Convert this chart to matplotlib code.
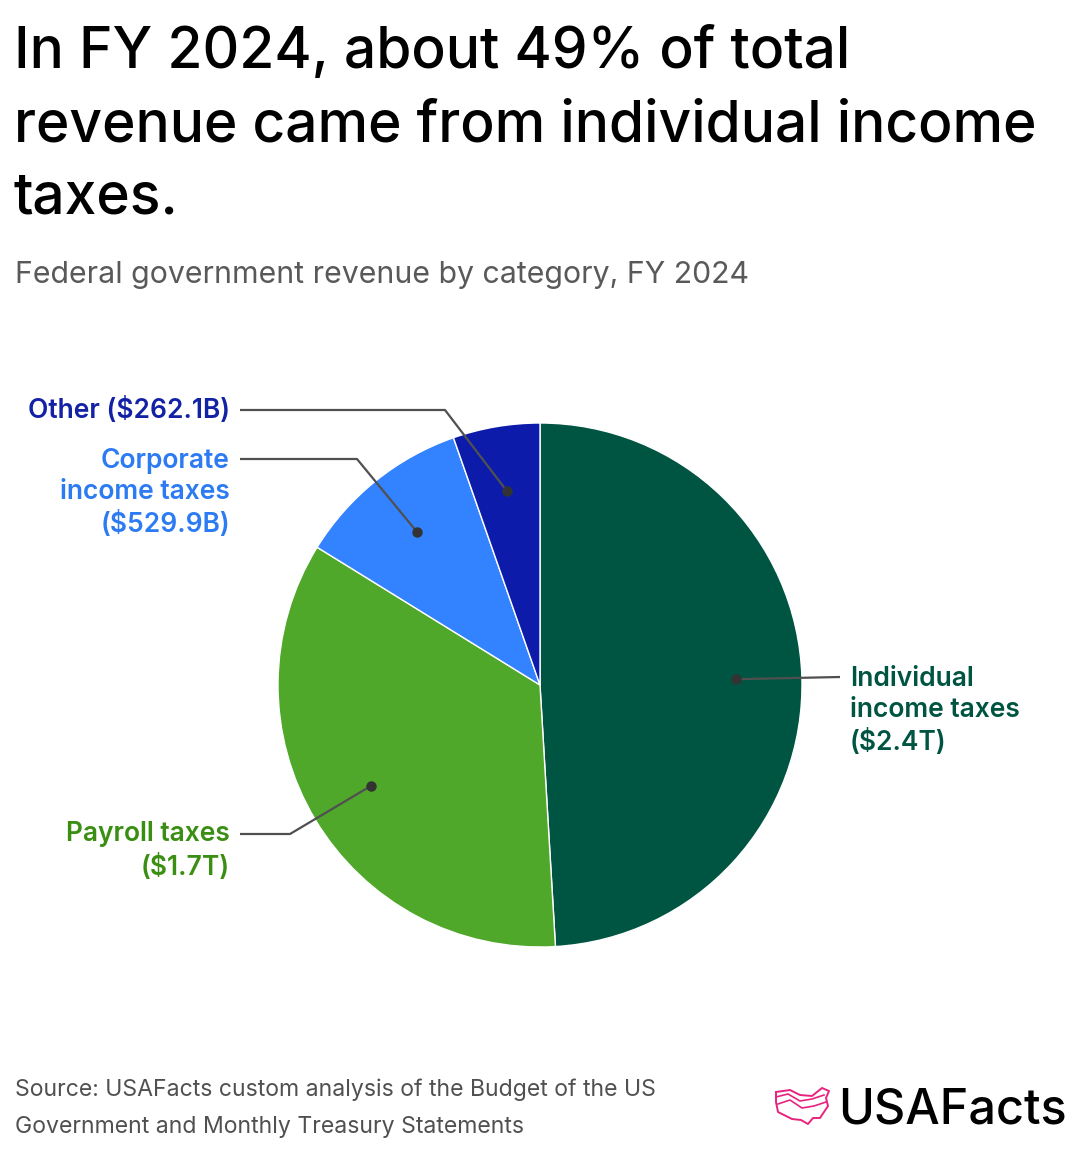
import numpy as np
import matplotlib
matplotlib.use("Agg")
import matplotlib.pyplot as plt

# ---- data ----
categories = ["Individual\nincome taxes", "Payroll taxes", "Corporate\nincome taxes", "Other"]
values_billion = [2400.0, 1700.0, 529.9, 262.1]
value_labels = ["($2.4T)", "($1.7T)", "($529.9B)", "($262.1B)"]
slice_colors = ["#005442", "#4FA82A", "#3382FF", "#0D1BAA"]
label_colors = ["#005442", "#3A8F12", "#2C7BF2", "#1322A5"]
title_lines = ["In FY 2024, about 49% of total", "revenue came from individual income", "taxes."]

W, H = 1080, 1160
fig = plt.figure(figsize=(W / 100, H / 100), dpi=100)
fig.patch.set_facecolor("white")

FONT = ["Inter", "DejaVu Sans"]

# pie axes (created first so the overlay draws above it)
cx, cy, R = 540, 685, 262
pax = fig.add_axes([(cx - R) / W, 1 - (cy + R) / H, 2 * R / W, 2 * R / H])
wedges, _ = pax.pie(values_billion, colors=slice_colors, startangle=90, counterclock=False,
                    radius=1.0, wedgeprops=dict(linewidth=1.0, edgecolor="white"))
pax.set_xlim(-1, 1)
pax.set_ylim(-1, 1)
pax.set_aspect("equal")
pax.axis("off")

# overlay axes in pixel coordinates
ov = fig.add_axes([0, 0, 1, 1])
ov.set_xlim(0, W)
ov.set_ylim(H, 0)
ov.axis("off")
ov.patch.set_alpha(0)

# title / subtitle
for k, line in enumerate(title_lines):
    ov.text(14, 53 + 73 * k, line, fontsize=41, fontfamily=FONT, fontweight="medium",
            color="#000000", va="center", ha="left")
ov.text(15, 275, "Federal government revenue by category, FY 2024", fontsize=21.8,
        fontfamily=FONT, color="#595959", va="center", ha="left")

# leader lines and labels
def to_px(theta_deg, frac):
    t = np.deg2rad(theta_deg)
    return cx + frac * R * np.cos(t), cy - frac * R * np.sin(t)

label_specs = {
    0: dict(elbow=None, end=(840, 677), text_xy=(850, 711), ha="left"),
    1: dict(elbow=(290, 834), end=(240, 834), text_xy=(230, 851), ha="right"),
    2: dict(elbow=(357, 459), end=(240, 459), text_xy=(230, 493), ha="right"),
    3: dict(elbow=(445, 410), end=(240, 410), text_xy=(230, 411), ha="right"),
}
for i, w in enumerate(wedges):
    mid = 0.5 * (w.theta1 + w.theta2)
    dx, dy = to_px(mid, 0.75)
    spec = label_specs[i]
    pts = [(dx, dy)]
    if spec["elbow"] is not None:
        pts.append(spec["elbow"])
    pts.append(spec["end"])
    xs, ys = zip(*pts)
    ov.plot(xs, ys, color="#505050", lw=1.6, solid_capstyle="butt", zorder=5)
    ov.plot([dx], [dy], "o", color="#333333", ms=6.5, zorder=6)
    if i == 3:
        txt = categories[i] + " " + value_labels[i]
    else:
        txt = categories[i] + "\n" + value_labels[i]
    ov.text(spec["text_xy"][0], spec["text_xy"][1], txt, fontsize=19.0, fontfamily=FONT,
            fontweight="semibold", color=label_colors[i], ha=spec["ha"], va="center",
            multialignment=spec["ha"], linespacing=1.29)

# source
ov.text(15, 1090, "Source: USAFacts custom analysis of the Budget of the US", fontsize=16.6,
        fontfamily=FONT, color="#505050", va="center", ha="left")
ov.text(15, 1127, "Government and Monthly Treasury Statements", fontsize=16.6,
        fontfamily=FONT, color="#505050", va="center", ha="left")

# logo
ov.text(838, 1110, "USAFacts", fontsize=35, fontfamily=FONT, fontweight="medium",
        color="#000000", va="center", ha="left")
pink = "#E8237F"
outline = [(776, 1092), (790, 1090), (800, 1095), (812, 1096), (822, 1088), (829, 1091),
           (826, 1098), (828, 1106), (824, 1112), (820, 1118), (813, 1118), (808, 1124),
           (801, 1120), (792, 1119), (786, 1116), (778, 1112), (776, 1102), (776, 1092)]
ox, oy = zip(*outline)
ov.plot(ox, oy, color=pink, lw=1.4, zorder=7)
ov.plot([776, 788, 800, 812, 824], [1097, 1094, 1101, 1099, 1095], color=pink, lw=1.2)
ov.plot([778, 790, 802, 814, 826], [1104, 1100, 1108, 1106, 1102], color=pink, lw=1.2)

fig.savefig("out.png", dpi=100, facecolor="white")
